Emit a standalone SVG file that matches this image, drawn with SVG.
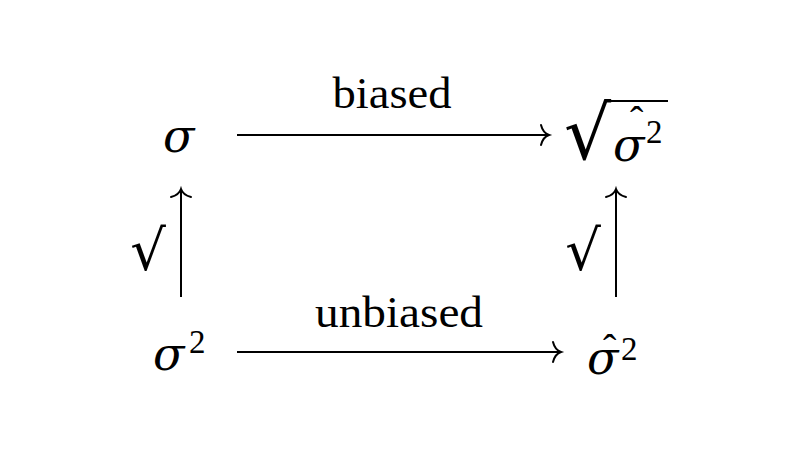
<svg xmlns="http://www.w3.org/2000/svg" width="800" height="450" viewBox="0 0 800 450">
<style>
.m{font-family:"DejaVu Serif",serif;font-style:italic;fill:#000}
.t{font-family:"Liberation Serif",serif;fill:#000}
.r{font-family:"DejaVu Serif",serif;fill:#000}
.c{stroke:#000;stroke-width:2;fill:none}
</style>
<defs>
<marker id="ah" markerUnits="userSpaceOnUse" markerWidth="20" markerHeight="24" refX="12" refY="12" orient="auto" viewBox="0 0 20 24">
<path d="M4 2 Q6 10 12 12 Q6 14 4 22" fill="none" stroke="#000" stroke-width="2" stroke-linecap="round"/>
</marker>
</defs>
<rect width="800" height="450" fill="#fff"/>
<g id="connectors">
<line class="c" x1="237" y1="135" x2="549" y2="135" marker-end="url(#ah)"/>
<line class="c" x1="237" y1="352" x2="561" y2="352" marker-end="url(#ah)"/>
<line class="c" x1="181" y1="297" x2="181" y2="189" marker-end="url(#ah)"/>
<line class="c" x1="616" y1="297" x2="616" y2="189" marker-end="url(#ah)"/>
<text class="t" x="392" y="108" font-size="44" text-anchor="middle" textLength="119" lengthAdjust="spacingAndGlyphs">biased</text>
<text class="t" x="399" y="327" font-size="44" text-anchor="middle" textLength="168" lengthAdjust="spacingAndGlyphs">unbiased</text>
<text class="r" x="148" y="270" font-size="56" text-anchor="middle">√</text>
<text class="r" x="583" y="270" font-size="56" text-anchor="middle">√</text>
</g>
<g id="n-sigma">
<text class="m" x="163" y="152" font-size="46">σ</text>
</g>
<g id="n-sigma2">
<text class="m" x="153" y="370" font-size="46">σ</text>
<text class="t" x="189" y="353" font-size="33">2</text>
</g>
<g id="n-sigmahat2">
<text class="m" x="587" y="374" font-size="46">σ</text>
<text class="t" x="603" y="362" font-size="40">ˆ</text>
<text class="t" x="621" y="360" font-size="33">2</text>
</g>
<g id="n-sqrt-sigmahat2">
<text class="r" x="564" y="159" font-size="74">√</text>
<path d="M611 101 H668" stroke="#000" stroke-width="2" fill="none"/>
<text class="m" x="613" y="161" font-size="46">σ</text>
<text class="t" x="630" y="134" font-size="40">ˆ</text>
<text class="t" x="646" y="143" font-size="33">2</text>
</g>
</svg>
